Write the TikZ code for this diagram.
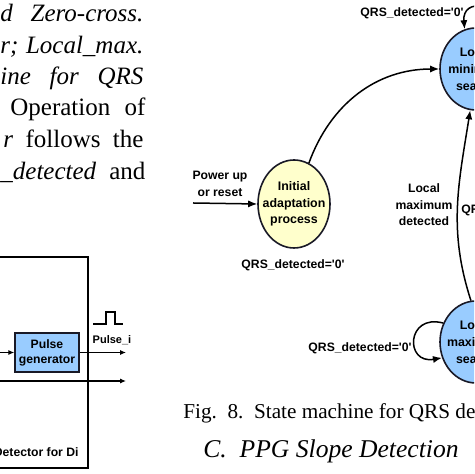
\documentclass[tikz,border=0pt]{standalone}
\usepackage{fontspec}
\setmainfont{Liberation Serif}
\newfontfamily\diagfont{Liberation Sans}
\usepackage{xcolor}
\definecolor{stateBlue}{rgb}{0.6,0.8,1}
\definecolor{stateYellow}{rgb}{1,1,0.8}
\definecolor{stateBorder}{rgb}{0.1,0.1,0.15}
\usetikzlibrary{shapes}
\usetikzlibrary{arrows.meta}
\usetikzlibrary{positioning}
\newcommand{\qrszero}{QRS\_detected=\textquotesingle0\textquotesingle}
\tikzstyle{state} = [ellipse, draw=stateBorder, line width=0.8pt, inner sep=0pt,
        minimum width=36pt, minimum height=41pt]
\tikzstyle{statetext} = [align=center, inner sep=0pt,
        font={\diagfont\bfseries\fontsize{6.2}{8.3}\selectfont}]
\tikzstyle{cond} = [align=center, inner sep=0pt,
        font={\diagfont\bfseries\fontsize{6.1}{8.3}\selectfont}]
\tikzstyle{trans} = [-{Latex[length=4.5pt,width=3.6pt]}, line width=0.75pt]
\tikzstyle{wire} = [-{Latex[length=3pt,width=2.6pt]}, line width=0.6pt]
\tikzstyle{bodytext} = [inner sep=0pt, anchor=base west, font={\fontsize{12.5}{14}\selectfont}]

\begin{document}
\begin{tikzpicture}[x=0.5pt, y=0.5pt]
    \useasboundingbox (0,0) rectangle (474,474);
    \clip (0,0) rectangle (474,474);
    % running text of the page
    \node [bodytext] (txtA) at (0,452) {\makebox[71.5pt][s]{\itshape d Zero-cross.}};
    \node [bodytext] (txtB) at (0,420) {\makebox[71.5pt][s]{\itshape r; Local\_max.}};
    \node [bodytext] (txtC) at (0,389) {\makebox[71.5pt][s]{\itshape ine for QRS}};
    \node [bodytext] (txtD) at (10,358) {\makebox[67.5pt][s]{Operation of}};
    \node [bodytext] (txtE) at (3,326) {\makebox[70pt][s]{\textit{r} follows the}};
    \node [bodytext] (txtF) at (0,294) {\makebox[72.5pt][s]{\textit{\_detected} and}};
    \node [bodytext, font={\fontsize{10.6}{12}\selectfont}] (figcap) at (183,55)
        {Fig.~~8.~~State machine for QRS detection.};
    \node [bodytext, font={\itshape\fontsize{12.8}{14}\selectfont}] (sechead) at (203,16)
        {C.~~PPG Slope Detection};

    % detector block
    \node [draw, line width=0.7pt, minimum width=46.5pt, minimum height=105.5pt] (det) at (41.5,111.5) {};
    \node [cond, anchor=east] (detname) at (79,22) {Detector for Di};
    \node [draw=stateBorder, fill=stateBlue, line width=0.7pt, minimum width=32pt, minimum height=19.5pt,
        inner sep=0pt, align=center, font={\diagfont\bfseries\fontsize{6.1}{7.5}\selectfont}] (pulse) at (47,121.5) {Pulse\\generator};
    \coordinate (inA) at (-5,121.5);
    \coordinate (outA) at (126,121.5);
    \coordinate (inB) at (-5,93);
    \coordinate (outB) at (126,93);
    \draw [wire] (inA) -- (pulse.west);
    \draw [wire] (pulse.east) -- (outA);
    \draw [wire] (inB) -- (outB);
    \draw [line width=0.8pt] (93,150) -- (106,150) -- (106,162) -- (115,162) -- (115,150) -- (123,150);
    \node [cond, font={\diagfont\bfseries\fontsize{5.5}{7}\selectfont}] (pulselbl) at (112,134) {Pulse\_i};

    % state machine
    \node [state, fill=stateYellow, minimum height=44pt, label={[statetext]center:Initial\\adaptation\\process}] (init) at (294,270) {};
    \node [state, fill=stateBlue, label={[statetext]center:Local\\minimum\\search}] (lmin) at (476,405) {};
    \node [state, fill=stateBlue, label={[statetext]center:Local\\maximum\\search}] (lmax) at (476,132) {};
    \coordinate (pstart) at (193,271);
    \node [cond] (power) at (220,290) {Power up\\or reset};
    \node [cond] (initcond) at (293,209) {\qrszero};
    \node [cond] (mincond) at (412,461) {\qrszero};
    \node [cond] (maxcond) at (360,126) {\qrszero};
    \node [cond] (maxfound) at (424,269) {Local\\maximum\\detected};
    \node [cond, anchor=west] (qrsfound) at (461,264) {QRS\_detected=\textquotesingle1\textquotesingle};

    \draw [trans] (pstart) -- (init.west);
    \draw [trans] (init.70) to[out=70, in=180] (lmin.west);
    \draw [trans] (lmax.97) to[out=108, in=261] (lmin.262);
    \draw [trans] (lmin.60) to[out=80, in=95, looseness=2.6] (lmin.106);
    \draw [trans] (lmax.150) to[out=165, in=190, looseness=2.8] (lmax.205);
\end{tikzpicture}
\end{document}
